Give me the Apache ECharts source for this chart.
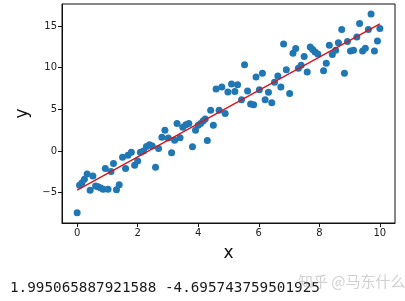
<!DOCTYPE html>
<html>
<head>
<meta charset="utf-8">
<script src="https://cdn.jsdelivr.net/npm/echarts@6/dist/echarts.min.js"></script>
<style>
html,body{margin:0;padding:0;background:#fff;}
#chart{width:405px;height:301px;}
</style>
</head>
<body>
<div id="chart"></div>
<script>
const xValues = [0.0,0.08,0.16,0.24,0.33,0.43,0.52,0.61,0.69,0.78,0.86,0.93,1.02,1.12,1.2,1.3,1.39,1.5,1.6,1.68,1.79,1.9,2.0,2.09,2.19,2.29,2.39,2.48,2.59,2.69,2.8,2.9,3.01,3.12,3.22,3.3,3.4,3.49,3.59,3.69,3.81,3.91,4.0,4.08,4.16,4.23,4.3,4.41,4.5,4.59,4.69,4.78,4.89,4.98,5.1,5.21,5.3,5.43,5.53,5.63,5.73,5.83,5.91,6.02,6.12,6.21,6.32,6.43,6.52,6.63,6.73,6.82,6.91,7.02,7.13,7.22,7.31,7.4,7.5,7.6,7.7,7.78,7.86,7.95,8.14,8.23,8.33,8.43,8.54,8.63,8.74,8.83,8.93,9.03,9.13,9.24,9.33,9.43,9.52,9.62,9.71,9.82,9.92,10.0];
const yValues = [-7.4,-4.1,-3.8,-3.4,-2.75,-4.7,-3.0,-4.2,-4.3,-4.45,-4.6,-2.1,-4.6,-2.45,-1.5,-4.65,-4.05,-0.75,-2.1,-0.5,-0.15,-1.7,-1.2,-0.15,0.0,0.55,0.75,0.6,-1.95,0.3,1.65,2.5,1.55,-0.2,1.3,3.3,1.6,2.85,3.15,3.3,0.5,2.5,3.1,3.3,3.6,3.85,1.25,4.9,3.1,7.45,4.9,7.7,4.5,7.1,8.05,7.15,7.95,6.15,10.35,7.2,5.65,5.55,8.9,7.35,9.35,6.15,7.05,5.8,8.25,9.0,7.7,12.85,9.75,6.9,11.75,12.3,9.95,10.3,11.35,9.5,12.5,12.2,11.9,11.65,9.65,10.55,12.7,11.6,12.1,13.0,14.6,9.35,13.15,12.0,12.1,13.7,15.3,12.0,12.35,14.6,16.45,12.0,13.2,14.7];
const slope = 1.995065887921588;
const intercept = -4.695743759501925;
const lineX = [0, 10];
const xTicks = [0, 2, 4, 6, 8, 10];
const yTicks = [-5, 0, 5, 10, 15];
const coefText = '1.995065887921588 -4.695743759501925';
const watermark = '知乎 @马东什么';

const scatterData = xValues.map((x, i) => [x, yValues[i]]);
const lineData = lineX.map(x => [x, slope * x + intercept]);

const chart = echarts.init(document.getElementById('chart'), null, {renderer: 'canvas'});
const fmt = v => String(v).replace('-', '\u2212');
chart.setOption({
  animation: false,
  backgroundColor: '#fff',
  grid: {left: 62, right: 10, top: 4, bottom: 78, show: true, borderColor: '#111', borderWidth: 1},
  xAxis: {
    type: 'value', min: -0.5, max: 10.5,
    name: 'x', nameLocation: 'middle', nameGap: 22,
    nameTextStyle: {fontSize: 17, color: '#111', fontFamily: 'DejaVu Sans'},
    axisLine: {show: true, onZero: false, lineStyle: {color: '#111'}},
    axisTick: {show: true, length: 4, customValues: xTicks, lineStyle: {color: '#111'}},
    axisLabel: {customValues: xTicks, fontSize: 10, color: '#222', margin: 5, fontFamily: 'DejaVu Sans', formatter: fmt},
    splitLine: {show: false}
  },
  yAxis: {
    type: 'value', min: -8.64, max: 17.65,
    name: 'y', nameLocation: 'middle', nameGap: 31, nameRotate: 90,
    nameTextStyle: {fontSize: 17, color: '#111', fontFamily: 'DejaVu Sans'},
    axisLine: {show: true, onZero: false, lineStyle: {color: '#111'}},
    axisTick: {show: true, length: 4, customValues: yTicks, lineStyle: {color: '#111'}},
    axisLabel: {customValues: yTicks, fontSize: 10, color: '#222', margin: 5, fontFamily: 'DejaVu Sans', formatter: fmt},
    splitLine: {show: false}
  },
  series: [
    {type: 'scatter', data: scatterData, symbolSize: 7, itemStyle: {color: '#1f77b4', opacity: 1}, z: 2},
    {type: 'line', data: lineData, showSymbol: false, lineStyle: {color: '#d8161e', width: 1.5}, z: 3}
  ],
  graphic: [
    {type: 'text', left: 10, top: 281, style: {text: coefText, fontSize: 14.3, fontFamily: 'DejaVu Sans Mono', fill: '#1a1a1a'}},
    {type: 'text', left: 298, top: 274, style: {text: watermark, fontSize: 15, fontFamily: 'Noto Sans CJK SC', fill: 'rgba(150,150,150,0.45)'}}
  ]
});
</script>
</body>
</html>
